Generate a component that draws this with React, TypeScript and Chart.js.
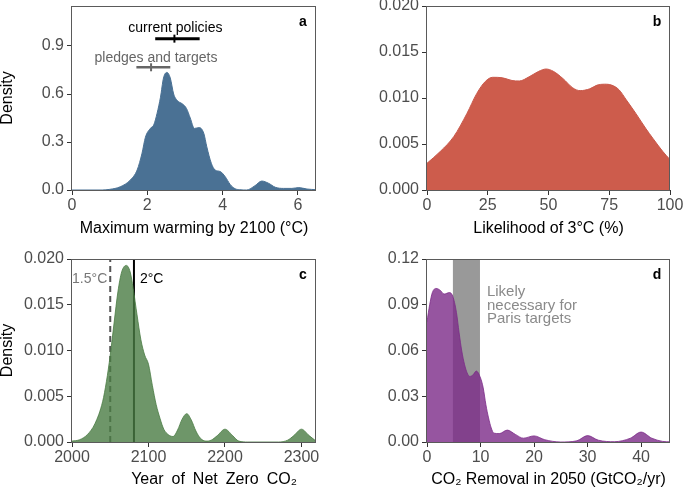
import { useEffect, useRef } from "react";
import { Chart, registerables } from "chart.js";

Chart.register(...registerables);

const FONT = "'Liberation Sans', Arial, Helvetica, sans-serif";
const TICK_TEXT = "#4d4d4d";
const FRAME = "#5a5a5a";

// ---------- Panel a: maximum warming by 2100 ----------
const warmingX = [0, 0.8, 1.0, 1.28, 1.55, 1.73, 1.86, 1.95, 2.08, 2.17, 2.26, 2.35, 2.43, 2.52, 2.61, 2.7, 2.81, 2.92, 3.04, 3.14, 3.25, 3.38, 3.5, 3.58, 3.7, 3.8, 3.94, 4.07, 4.2, 4.33, 4.45, 4.64, 4.86, 5.04, 5.22, 5.4, 5.62, 5.84, 6.02, 6.24, 6.48];
const warmingDensity = [0, 0, 0.004, 0.02, 0.0625, 0.125, 0.23, 0.33, 0.385, 0.406, 0.48, 0.58, 0.7, 0.735, 0.7, 0.6, 0.556, 0.54, 0.51, 0.45, 0.385, 0.39, 0.354, 0.27, 0.167, 0.125, 0.115, 0.083, 0.035, 0.008, 0.002, 0.0, 0.027, 0.056, 0.042, 0.017, 0.01, 0.01, 0.015, 0.006, 0.002];
const warmingXTicks = [0, 2, 4, 6];
const warmingYTicks = [0, 0.3, 0.6, 0.9];
const currentPoliciesRange = [2.21, 2.72, 3.39]; // low, central, high
const currentPoliciesLevel = 0.946;
const pledgesRange = [1.71, 2.1, 2.61];
const pledgesLevel = 0.767;

// ---------- Panel b: likelihood of 3°C ----------
const likelihoodX = [0, 5.5, 11, 16.4, 20.5, 24, 27, 31, 35, 38, 42, 46, 49, 52, 56, 60, 63, 67, 70, 73, 76, 79, 82, 86, 90, 93, 97, 100];
const likelihoodDensity = [0.0029, 0.0042, 0.0058, 0.0083, 0.0105, 0.0118, 0.01225, 0.0122, 0.0119, 0.01185, 0.0123, 0.0129, 0.01315, 0.0129, 0.0121, 0.0111, 0.0108, 0.011, 0.0114, 0.0115, 0.0114, 0.0109, 0.0098, 0.0083, 0.0067, 0.0056, 0.0042, 0.0033];
const likelihoodXTicks = [0, 25, 50, 75, 100];
const likelihoodYTicks = [0, 0.005, 0.01, 0.015, 0.02];

// ---------- Panel c: year of net zero CO2 ----------
const netZeroYear = [2000, 2010, 2020, 2030, 2040, 2045, 2050, 2055, 2060, 2065, 2071, 2076, 2080, 2085, 2090, 2095, 2100, 2105, 2110, 2115, 2120, 2126, 2132, 2138, 2144, 2150, 2156, 2162, 2168, 2175, 2182, 2190, 2200, 2210, 2218, 2230, 2270, 2282, 2290, 2300, 2310, 2319];
const netZeroDensity = [0.0001, 0.00025, 0.0008, 0.002, 0.0044, 0.0066, 0.0095, 0.013, 0.0164, 0.0186, 0.0193, 0.0186, 0.0168, 0.0139, 0.0112, 0.0095, 0.0085, 0.0062, 0.0041, 0.0026, 0.0014, 0.0008, 0.0006, 0.0013, 0.0025, 0.0031, 0.0024, 0.0012, 0.0004, 0.0001, 0.0002, 0.0007, 0.0014, 0.0007, 0.0001, 0, 0, 0.0002, 0.0007, 0.0014, 0.0007, 0.0001];
const netZeroXTicks = [2000, 2100, 2200, 2300];
const netZeroYTicks = [0, 0.005, 0.01, 0.015, 0.02];
const netZero15C = 2050;
const netZero2C = 2081;

// ---------- Panel d: CO2 removal in 2050 ----------
const removalX = [0, 0.5, 1, 1.7, 2.5, 3.2, 4.2, 4.8, 5.5, 6, 6.5, 7, 7.5, 8, 8.6, 9.2, 10, 10.5, 11, 11.5, 12, 12.5, 13.5, 15, 16.5, 18, 20, 22, 25, 28, 30, 32, 35, 38, 40, 42, 44, 45.4];
const removalDensity = [0.079, 0.09, 0.098, 0.1007, 0.0994, 0.097, 0.098, 0.0957, 0.085, 0.0716, 0.0596, 0.051, 0.0453, 0.043, 0.044, 0.0465, 0.042, 0.0355, 0.0245, 0.0158, 0.0092, 0.0058, 0.0055, 0.0078, 0.005, 0.0025, 0.004, 0.0015, 0.0, 0.0008, 0.0042, 0.0012, 0.0002, 0.0025, 0.0065, 0.0025, 0.0004, 0.0001];
const removalXTicks = [0, 10, 20, 30, 40];
const removalYTicks = [0, 0.03, 0.06, 0.09, 0.12];
const parisBand = [4.8, 9.9];

const zip = (xs: number[], ys: number[]) => xs.map((x, i) => ({ x, y: ys[i] }));

type TextItem = {
  x: number;
  y: number;
  text: string;
  color: string;
  align: CanvasTextAlign;
  size: number;
  dx?: number;
  dy?: number;
};

interface PanelSpec {
  left: number;
  top: number;
  width: number;
  height: number;
  area: [number, number, number, number];
  xRange: [number, number];
  yRange: [number, number];
  xTicks: number[];
  yTicks: number[];
  yDigits: number;
  xTitle: string;
  xTitlePad: number;
  yTitle?: string;
  datasets: any[];
  texts: TextItem[];
  letter: string;
}

function densityDataset(xs: number[], ys: number[], fillColor: string, lineColor: string) {
  return {
    data: zip(xs, ys),
    fill: "origin",
    backgroundColor: fillColor,
    borderColor: lineColor,
    borderWidth: 1,
    cubicInterpolationMode: "monotone",
    pointRadius: 0,
  };
}

function buildConfig(s: PanelSpec): any {
  const [l, t, r, b] = s.area;
  const decor = {
    id: "decor",
    afterDatasetsDraw(chart: any) {
      const { ctx, chartArea, scales } = chart;
      ctx.save();
      ctx.strokeStyle = FRAME;
      ctx.lineWidth = 1;
      const x0 = Math.round(chartArea.left) - 0.5;
      const y0 = Math.round(chartArea.top) + 0.5;
      const x1 = Math.round(chartArea.right) - 0.5;
      const y1 = Math.round(chartArea.bottom) + 0.5;
      ctx.strokeRect(x0, y0, x1 - x0, y1 - y0);
      for (const it of s.texts) {
        ctx.font = `${it.size}px ${FONT}`;
        ctx.fillStyle = it.color;
        ctx.textAlign = it.align;
        ctx.textBaseline = "middle";
        ctx.fillText(
          it.text,
          scales.x.getPixelForValue(it.x) + (it.dx || 0),
          scales.y.getPixelForValue(it.y) + (it.dy || 0)
        );
      }
      ctx.font = `bold 14px ${FONT}`;
      ctx.fillStyle = "#000";
      ctx.textAlign = "center";
      ctx.textBaseline = "alphabetic";
      ctx.fillText(s.letter, chartArea.right - 13, chartArea.top + 20);
      ctx.restore();
    },
  };
  const gridOpts = {
    display: true,
    drawOnChartArea: false,
    drawTicks: true,
    tickLength: 5,
    tickColor: "#333",
    tickWidth: 1,
  };
  return {
    type: "line",
    data: { datasets: s.datasets },
    options: {
      responsive: false,
      animation: false,
      devicePixelRatio: 1,
      layout: { padding: { left: 0, top: t, right: s.width - r, bottom: 0 } },
      plugins: { legend: { display: false }, tooltip: { enabled: false } },
      scales: {
        x: {
          type: "linear",
          min: s.xRange[0],
          max: s.xRange[1],
          afterBuildTicks: (sc: any) => {
            sc.ticks = s.xTicks.map((v) => ({ value: v }));
          },
          afterFit: (sc: any) => {
            sc.height = s.height - b;
            sc.paddingLeft = 0;
            sc.paddingRight = 0;
          },
          grid: gridOpts,
          border: { display: false },
          ticks: {
            padding: 1,
            color: TICK_TEXT,
            font: { family: FONT, size: 16 },
            maxRotation: 0,
            autoSkip: false,
            callback: (v: any) => String(v),
          },
          title: {
            display: true,
            text: s.xTitle,
            color: "#000",
            font: { family: FONT, size: 16 },
            padding: { top: 0, bottom: s.xTitlePad },
          },
        },
        y: {
          type: "linear",
          min: s.yRange[0],
          max: s.yRange[1],
          afterBuildTicks: (sc: any) => {
            sc.ticks = s.yTicks.map((v) => ({ value: v }));
          },
          afterFit: (sc: any) => {
            sc.width = l;
            sc.paddingTop = 0;
            sc.paddingBottom = 0;
          },
          grid: gridOpts,
          border: { display: false },
          ticks: {
            padding: 3,
            color: TICK_TEXT,
            font: { family: FONT, size: 16 },
            autoSkip: false,
            callback: (v: any) => Number(v).toFixed(s.yDigits),
          },
          title: {
            display: !!s.yTitle,
            text: s.yTitle || "",
            color: "#000",
            font: { family: FONT, size: 16, lineHeight: 0.94 },
            padding: 0,
          },
        },
      },
    },
    plugins: [decor],
  };
}

const panelA: PanelSpec = {
  left: 0,
  top: 0,
  width: 340,
  height: 240,
  area: [72, 6, 316, 190],
  xRange: [0, 6.48],
  yRange: [0, 1.15],
  xTicks: warmingXTicks,
  yTicks: warmingYTicks,
  yDigits: 1,
  xTitle: "Maximum warming by 2100 (°C)",
  xTitlePad: 2,
  yTitle: "Density",
  letter: "a",
  datasets: [
    densityDataset(warmingX, warmingDensity, "#4a7194", "#4a7194"),
    {
      data: zip([currentPoliciesRange[0], currentPoliciesRange[2]], [currentPoliciesLevel, currentPoliciesLevel]),
      borderColor: "#000",
      borderWidth: 3,
      pointRadius: 0,
      fill: false,
    },
    {
      data: zip([currentPoliciesRange[1]], [currentPoliciesLevel]),
      showLine: false,
      pointStyle: "line",
      pointRotation: 90,
      pointRadius: 4,
      pointBorderWidth: 2,
      pointBorderColor: "#000",
    },
    {
      data: zip([pledgesRange[0], pledgesRange[2]], [pledgesLevel, pledgesLevel]),
      borderColor: "#666",
      borderWidth: 2.5,
      pointRadius: 0,
      fill: false,
    },
    {
      data: zip([pledgesRange[1]], [pledgesLevel]),
      showLine: false,
      pointStyle: "line",
      pointRotation: 90,
      pointRadius: 4,
      pointBorderWidth: 2,
      pointBorderColor: "#666",
    },
  ],
  texts: [
    { x: 2.745, y: 1.01, text: "current policies", color: "#000", align: "center", size: 14 },
    { x: 2.23, y: 0.827, text: "pledges and targets", color: "#666", align: "center", size: 14 },
  ],
};

const panelB: PanelSpec = {
  left: 340,
  top: 0,
  width: 345,
  height: 240,
  area: [87, 6, 330, 190],
  xRange: [0, 100],
  yRange: [0, 0.02],
  xTicks: likelihoodXTicks,
  yTicks: likelihoodYTicks,
  yDigits: 3,
  xTitle: "Likelihood of 3°C (%)",
  xTitlePad: 2,
  letter: "b",
  datasets: [densityDataset(likelihoodX, likelihoodDensity, "#cd5c4c", "#c9584a")],
  texts: [],
};

const panelC: PanelSpec = {
  left: 0,
  top: 240,
  width: 340,
  height: 249,
  area: [72, 19, 316, 202],
  xRange: [2000, 2319],
  yRange: [0, 0.02],
  xTicks: netZeroXTicks,
  yTicks: netZeroYTicks,
  yDigits: 3,
  xTitle: "\u2002\u2002\u2002\u2002\u2002Year\u2002of\u2002Net\u2002Zero\u2002CO\u2082",
  xTitlePad: 0,
  yTitle: "Density",
  letter: "c",
  datasets: [
    densityDataset(netZeroYear, netZeroDensity, "rgba(74,124,67,0.8)", "rgba(74,124,67,0.8)"),
    {
      data: zip([netZero15C, netZero15C], [0, 0.02]),
      borderColor: "#555",
      borderWidth: 2,
      borderDash: [6, 4],
      pointRadius: 0,
      fill: false,
    },
    {
      data: zip([netZero2C, netZero2C], [0, 0.02]),
      borderColor: "#000",
      borderWidth: 2,
      pointRadius: 0,
      fill: false,
    },
  ],
  texts: [
    { x: netZero15C, y: 0.0178, dx: -3, text: "1.5°C", color: "#777", align: "right", size: 14 },
    { x: netZero2C, y: 0.0178, dx: 6, text: "2°C", color: "#000", align: "left", size: 14 },
  ],
};

const panelD: PanelSpec = {
  left: 340,
  top: 240,
  width: 345,
  height: 249,
  area: [87, 19, 330, 202],
  xRange: [0, 45.4],
  yRange: [0, 0.12],
  xTicks: removalXTicks,
  yTicks: removalYTicks,
  yDigits: 2,
  xTitle: "CO\u2082 Removal in 2050 (GtCO\u2082/yr)",
  xTitlePad: 0,
  letter: "d",
  datasets: [
    densityDataset(removalX, removalDensity, "rgba(124,42,136,0.8)", "rgba(124,42,136,0.8)"),
    {
      data: zip(parisBand, [0.12, 0.12]),
      fill: "origin",
      backgroundColor: "#999999",
      borderWidth: 0,
      pointRadius: 0,
      tension: 0,
    },
  ],
  texts: [
    { x: 11.2, y: 0.0984, text: "Likely", color: "#8a8a8a", align: "left", size: 15 },
    { x: 11.2, y: 0.0984, dy: 13.5, text: "necessary for", color: "#8a8a8a", align: "left", size: 15 },
    { x: 11.2, y: 0.0984, dy: 27, text: "Paris targets", color: "#8a8a8a", align: "left", size: 15 },
  ],
};

const panels = [panelA, panelB, panelC, panelD];

function Panel({ spec }: { spec: PanelSpec }) {
  const ref = useRef<HTMLCanvasElement>(null);
  useEffect(() => {
    if (!ref.current) return;
    const chart = new Chart(ref.current, buildConfig(spec));
    return () => chart.destroy();
  }, [spec]);
  return (
    <canvas
      ref={ref}
      width={spec.width}
      height={spec.height}
      style={{
        position: "absolute",
        left: spec.left,
        top: spec.top,
        width: spec.width,
        height: spec.height,
      }}
    />
  );
}

export default function App() {
  return (
    <div
      style={{
        position: "absolute",
        left: 0,
        top: 0,
        width: 685,
        height: 489,
        background: "#fff",
        overflow: "hidden",
      }}
    >
      {panels.map((p) => (
        <Panel key={p.letter} spec={p} />
      ))}
    </div>
  );
}
